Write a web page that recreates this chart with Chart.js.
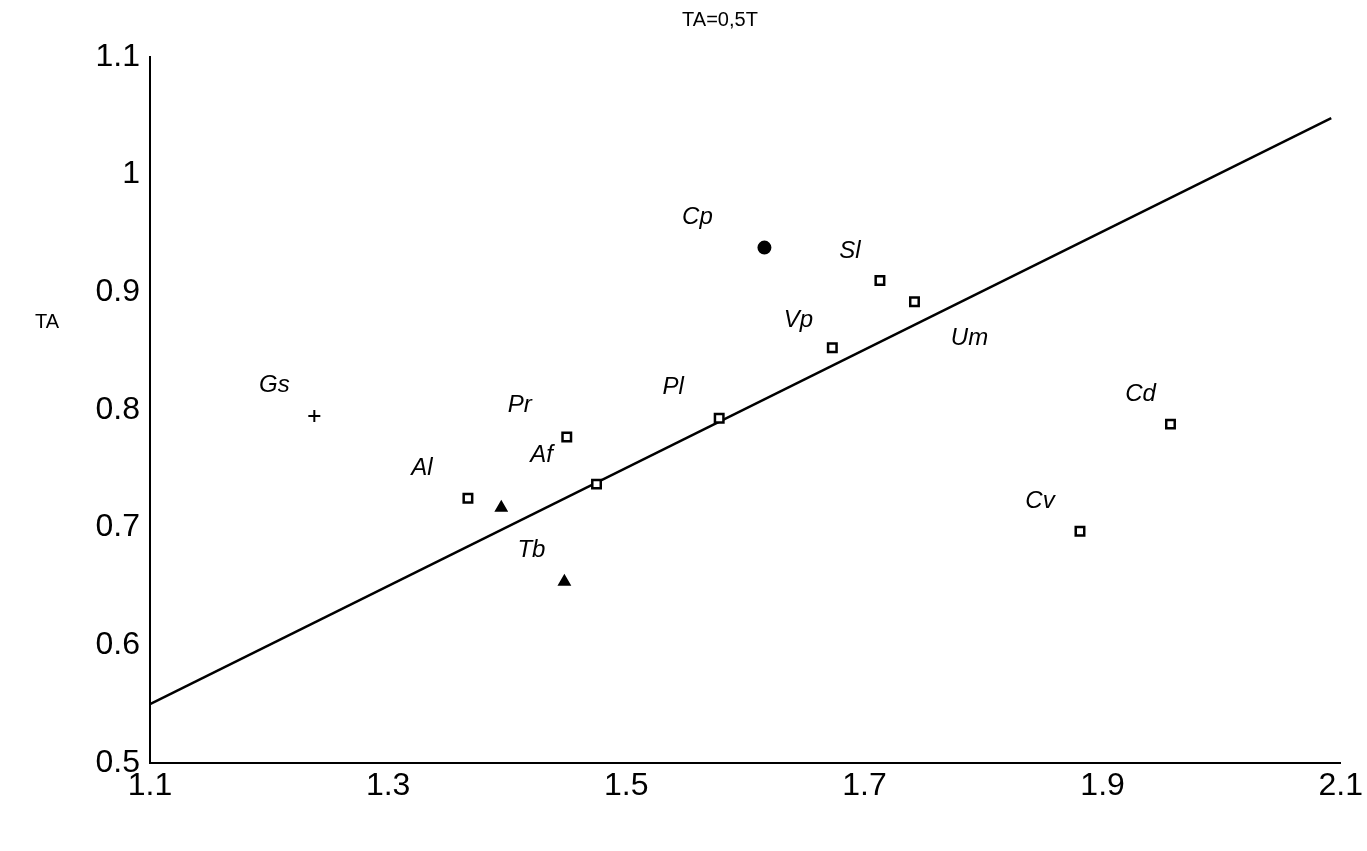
<!DOCTYPE html>
<html><head><meta charset="utf-8">
<script src="https://cdn.jsdelivr.net/npm/chart.js@4"></script>
<style>html,body{margin:0;background:#fff}</style>
</head><body>
<canvas id="c" width="1367" height="851"></canvas>
<script>
const names = ["Gs","Al","","Pr","Af","Tb","Pl","Cp","Vp","Sl","Um","Cv","Cd"];
const xVals = [1.238,1.367,1.395,1.450,1.475,1.448,1.578,1.616,1.673,1.713,1.742,1.881,1.957];
const yVals = [0.795,0.725,0.717,0.777,0.737,0.654,0.793,0.938,0.853,0.910,0.892,0.697,0.788];
const markers = ["cross","rect","triangle","rect","rect","triangle","rect","circle","rect","rect","rect","rect","rect"];
const lineX = [1.1,2.092];
const lineY = [0.55,1.048];
const xTicks = [1.1,1.3,1.5,1.7,1.9,2.1];
const yTicks = [0.5,0.6,0.7,0.8,0.9,1,1.1];

const offs = [[-40,-31],[-46,-30],[0,0],[-47,-32],[-55,-29],[-33,-31],[-46,-31],[-67,-30],[-34,-27],[-30,-29],[55,37],[-40,-30],[-30,-30]];
const pts = xVals.map((x,i)=>({x,y:yVals[i]}));
const styles = markers.map(m=>m==="rect"?"rect":m==="cross"?"cross":m==="triangle"?"triangle":"circle");
const labelPlugin = {
  id:'lbl',
  afterDatasetsDraw(chart){
    const ctx=chart.ctx, xs=chart.scales.x, ys=chart.scales.y;
    ctx.save();
    ctx.fillStyle='#000';
    ctx.font='italic 24px "Liberation Sans", Arial';
    ctx.textAlign='center'; ctx.textBaseline='middle';
    names.forEach((n,i)=>{ if(!n) return;
      ctx.fillText(n, xs.getPixelForValue(xVals[i])+offs[i][0], ys.getPixelForValue(yVals[i])+offs[i][1]);
    });
    ctx.font='20px "Liberation Sans", Arial';
    ctx.fillText('TA=0,5T', 720, 20);
    ctx.fillText('TA', 47, 322);
    ctx.restore();
  }
};
new Chart(document.getElementById('c'),{
  type:'scatter',
  data:{datasets:[
    {data:pts, pointStyle:styles,
     pointRadius:markers.map(m=>m==="rect"?6:m==="circle"?6:m==="cross"?6:6),
     pointBackgroundColor:markers.map(m=>m==="rect"?'#fff':'#000'),
     pointBorderColor:'#000', pointBorderWidth:markers.map(m=>m==="rect"?2.5:2), showLine:false},
    {type:'line', data:lineX.map((x,i)=>({x,y:lineY[i]})), borderColor:'#000', borderWidth:2.5, pointRadius:0, fill:false}
  ]},
  options:{
    responsive:false, animation:false, events:[],
    layout:{padding:{top:57,right:17,left:0,bottom:0}},
    plugins:{legend:{display:false},tooltip:{enabled:false}},
    scales:{
      x:{type:'linear',min:1.1,max:2.1,
        afterBuildTicks(s){s.ticks=xTicks.map(v=>({value:v}));},
        afterFit(s){s.height=88;},
        grid:{display:false,drawTicks:false},
        border:{color:'#000',width:2},
        ticks:{color:'#000',font:{size:32,family:'"Liberation Sans", Arial'},padding:4,maxRotation:0,callback:v=>String(v)}},
      y:{type:'linear',min:0.5,max:1.1,
        afterBuildTicks(s){s.ticks=yTicks.map(v=>({value:v}));},
        afterFit(s){s.width=150;},
        grid:{display:false,drawTicks:false},
        border:{color:'#000',width:2},
        ticks:{color:'#000',font:{size:32,family:'"Liberation Sans", Arial'},padding:10,callback:v=>String(v)}}
    }
  },
  plugins:[labelPlugin]
});
</script>
</body></html>
